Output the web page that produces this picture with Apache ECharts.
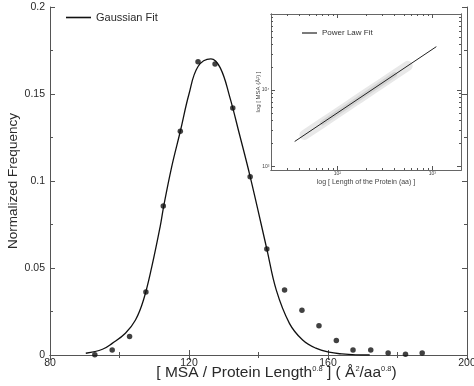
<!DOCTYPE html>
<html><head><meta charset="utf-8">
<script src="https://cdn.jsdelivr.net/npm/echarts@6/dist/echarts.min.js"></script>
<style>html,body{margin:0;padding:0;background:#fff}#c{width:474px;height:386px}</style>
</head><body><div id="c"></div>
<script>
// Main histogram points
const dataX = [92.9, 97.9, 102.9, 107.6, 112.6, 117.5, 122.6, 127.5, 132.6, 137.6, 142.4, 147.5, 152.5, 157.4, 162.4, 167.2, 172.3, 177.3, 182.3, 187.1];
const dataY = [0.0002, 0.0029, 0.0107, 0.0362, 0.0856, 0.1286, 0.1686, 0.1672, 0.1420, 0.1025, 0.0609, 0.0374, 0.0257, 0.0168, 0.0084, 0.0029, 0.0029, 0.0011, 0.0004, 0.0011];
// Gaussian fit curve
const fitX = [90.3, 95.1, 97.9, 101.7, 104.6, 106.9, 109.3, 111.7, 112.7, 115, 117.5, 120, 122.6, 126.3, 129, 131.7, 134.5, 137.6, 142.4, 145.1, 148.9, 152.7, 156.5, 160.3, 164.0, 168, 172];
const fitY = [0.0010, 0.0033, 0.0067, 0.0125, 0.0201, 0.0316, 0.0508, 0.0738, 0.0853, 0.1080, 0.1286, 0.1500, 0.1658, 0.1702, 0.1650, 0.1485, 0.1270, 0.1025, 0.0609, 0.0374, 0.0182, 0.0086, 0.0039, 0.0016, 0.0006, 0.0001, 0.0];
// Inset (log-log): power law fit and data cloud, in aa and Å²
const powerX = [35.5, 1100];
const powerY = [2110, 37200];
const cloudX = [45, 70, 100, 150, 200, 300, 400, 550];
const cloudY = [2571, 3720, 5010, 7030, 8940, 12540, 15950, 20800];
// Tick values
const mainXTicks = [80, 120, 160, 200];
const mainYTicks = ['0', '0.05', '0.1', '0.15', '0.2'];
const insetXRange = [20, 2000];
const insetYRange = [890, 100000];
const insetXMajor = [100, 1000];
const insetXMinor = [30, 40, 50, 60, 70, 80, 90, 200, 300, 400, 500, 600, 700, 800, 900];
const insetYMajor = [1000, 10000];
const insetYMinor = [2000, 3000, 4000, 5000, 6000, 7000, 8000, 9000, 20000, 30000, 40000, 50000, 60000, 70000, 80000, 90000];

const lg = Math.log10;
const axisColor = '#555';
const txt = '#2a2a2a';
const supMap = {'2': '²', '3': '³', '4': '⁴'};
const logLabel = v => '10' + supMap[String(Math.round(v))];

function mainAxis(extra) {
  return Object.assign({
    axisLine: {show: true, lineStyle: {color: axisColor, width: 1}},
    axisTick: {show: true, inside: true, length: 5, lineStyle: {color: axisColor}},
    minorTick: {show: true, splitNumber: 2, length: 3, lineStyle: {color: axisColor}},
    splitLine: {show: false},
    minorSplitLine: {show: false}
  }, extra);
}
function insetAxis(extra, range, ticks, len, labels) {
  return Object.assign({
    type: 'value', z: 8, min: lg(range[0]), max: lg(range[1]),
    axisLine: {show: true, lineStyle: {color: '#666', width: 1}},
    axisTick: {show: true, inside: true, length: len, customValues: ticks.map(lg), lineStyle: {color: '#555', width: 1}},
    axisLabel: labels ? {show: true, customValues: ticks.map(lg), formatter: logLabel, fontSize: 5, color: '#444', margin: 1.5, fontFamily: 'Liberation Sans'} : {show: false},
    splitLine: {show: false}
  }, extra);
}

const chart = echarts.init(document.getElementById('c'), null, {renderer: 'canvas'});
chart.setOption({
  animation: false,
  backgroundColor: '#fff',
  textStyle: {fontFamily: 'Liberation Sans'},
  grid: [
    {left: 50, top: 7, width: 417, height: 348, show: false, outerBoundsMode: 'none', containLabel: false},
    {left: 271, top: 14, width: 190, height: 156, show: false, outerBoundsMode: 'none', containLabel: false}
  ],
  legend: [
    {data: [{name: 'Gaussian Fit', icon: 'rect'}], left: 66, top: 12, padding: 0, itemWidth: 25, itemHeight: 1.6, itemGap: 5,
     selectedMode: false, textStyle: {fontSize: 11, color: txt}},
    {data: [{name: 'Power Law Fit', icon: 'rect'}], left: 302, top: 29, padding: 0, itemWidth: 15, itemHeight: 1.2, itemGap: 4,
     selectedMode: false, textStyle: {fontSize: 8, color: '#333'}, z: 10}
  ],
  xAxis: [
    mainAxis({type: 'value', gridIndex: 0, min: 80, max: 200, interval: 40, position: 'bottom',
      axisLabel: {show: true, fontSize: 10.5, color: txt, margin: 3,
        formatter: v => mainXTicks.indexOf(v) >= 0 ? String(v) : ''},
      name: '{t|[ MSA / Protein Length}{s|0.8}{t| ] ( Å}{s|2}{t|/aa}{s|0.8}{t|)}',
      nameLocation: 'middle', nameGap: 10, nameMoveOverlap: false,
      nameTextStyle: {padding: [0, 0, 0, 36], rich: {
        t: {fontSize: 15.5, color: txt, fontFamily: 'Liberation Sans'},
        s: {fontSize: 7.5, color: txt, fontFamily: 'Liberation Sans', padding: [0, 0, 8, 0]}
      }}}),
    mainAxis({type: 'value', gridIndex: 0, min: 80, max: 200, interval: 40, position: 'top', axisLabel: {show: false}}),
    insetAxis({gridIndex: 1, position: 'bottom',
      name: 'log [ Length of the Protein (aa) ]', nameLocation: 'middle', nameGap: 9, nameMoveOverlap: false,
      nameTextStyle: {fontSize: 7, color: '#444'}}, insetXRange, insetXMajor, 4, true),
    insetAxis({gridIndex: 1, position: 'bottom'}, insetXRange, insetXMinor, 2, false),
    insetAxis({gridIndex: 1, position: 'top'}, insetXRange, insetXMajor, 4, false),
    insetAxis({gridIndex: 1, position: 'top'}, insetXRange, insetXMinor, 2, false)
  ],
  yAxis: [
    mainAxis({type: 'value', gridIndex: 0, min: 0, max: 0.2, interval: 0.05, position: 'left',
      axisLabel: {show: true, fontSize: 10.5, color: txt, margin: 5,
        formatter: (v) => mainYTicks[Math.round(v / 0.05)]},
      name: 'Normalized Frequency', nameLocation: 'middle', nameGap: 30, nameMoveOverlap: false,
      nameTextStyle: {fontSize: 13.5, color: txt}}),
    mainAxis({type: 'value', gridIndex: 0, min: 0, max: 0.2, interval: 0.05, position: 'right', axisLabel: {show: false}}),
    insetAxis({gridIndex: 1, position: 'left',
      name: 'log [ MSA (Å²) ]', nameLocation: 'middle', nameGap: 10, nameMoveOverlap: false,
      nameTextStyle: {fontSize: 6, color: '#444'}}, insetYRange, insetYMajor, 4, true),
    insetAxis({gridIndex: 1, position: 'left'}, insetYRange, insetYMinor, 2, false),
    insetAxis({gridIndex: 1, position: 'right'}, insetYRange, insetYMajor, 4, false),
    insetAxis({gridIndex: 1, position: 'right'}, insetYRange, insetYMinor, 2, false)
  ],
  series: [
    {name: 'Gaussian Fit', type: 'line', xAxisIndex: 0, yAxisIndex: 0, smooth: 0.4, showSymbol: false, symbol: 'none',
     data: fitX.map((x, i) => [x, fitY[i]]), lineStyle: {color: '#111', width: 1.3}, itemStyle: {color: '#111'}, z: 3},
    {name: 'Data', type: 'scatter', xAxisIndex: 0, yAxisIndex: 0, symbolSize: 5.5,
     data: dataX.map((x, i) => [x, dataY[i]]), itemStyle: {color: '#111'}, z: 4},
    {name: 'Cloud outer', type: 'line', xAxisIndex: 2, yAxisIndex: 2, showSymbol: false, symbol: 'none', smooth: true,
     data: cloudX.map((x, i) => [lg(x), lg(cloudY[i])]), lineStyle: {color: '#e8e8e8', width: 10, cap: 'round'}, z: 6, silent: true},
    {name: 'Cloud inner', type: 'line', xAxisIndex: 2, yAxisIndex: 2, showSymbol: false, symbol: 'none', smooth: true,
     data: cloudX.slice(1, 7).map((x, i) => [lg(x), lg(cloudY[i + 1])]), lineStyle: {color: '#d4d4d4', width: 5, cap: 'round'}, z: 6, silent: true},
    {name: 'Power Law Fit', type: 'line', xAxisIndex: 2, yAxisIndex: 2, showSymbol: false, symbol: 'none',
     data: powerX.map((x, i) => [lg(x), lg(powerY[i])]), lineStyle: {color: '#222', width: 1}, itemStyle: {color: '#222'}, z: 7}
  ]
});
</script></body></html>
